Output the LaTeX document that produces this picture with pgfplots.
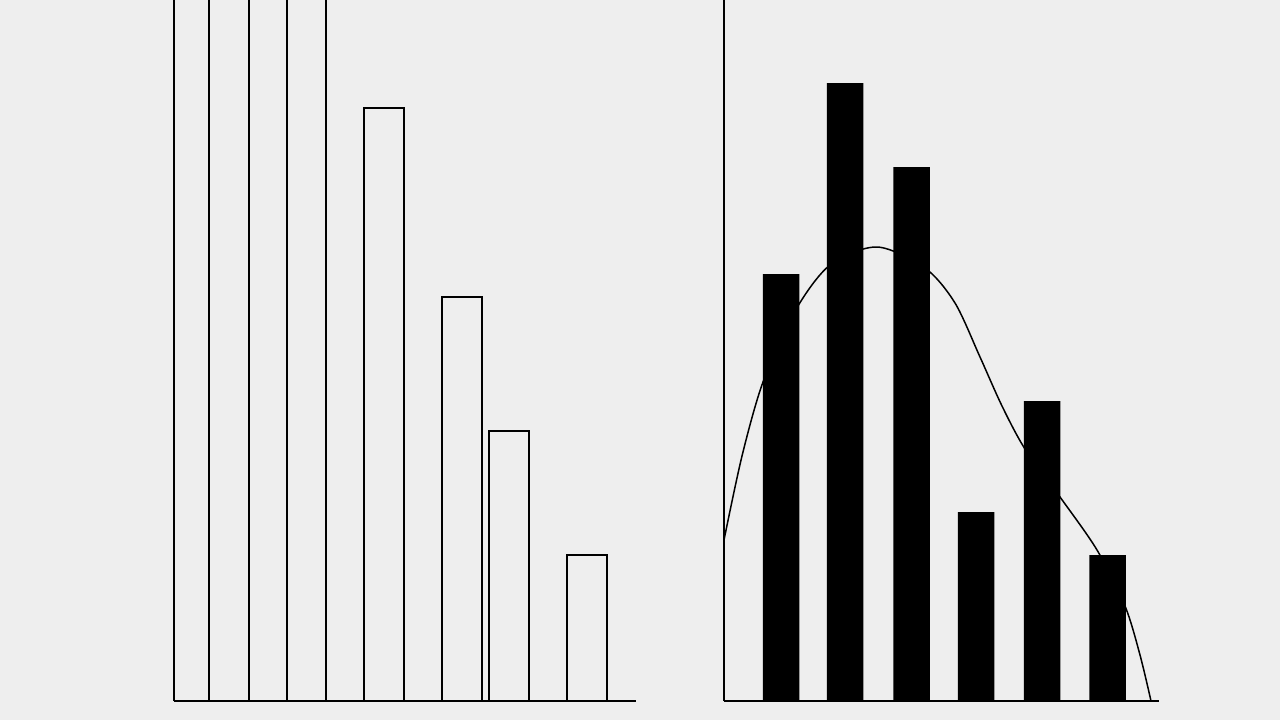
\documentclass[border=0pt]{standalone}
\usepackage{pgfplots}
\pgfplotsset{compat=1.18}
\definecolor{bg}{RGB}{238,238,238}
\begin{document}
\begin{tikzpicture}
\path[use as bounding box] (0,0) rectangle (640pt,360pt);
\fill[bg] (0,0) rectangle (640pt,360pt);
% left panel
\begin{axis}[
  at={(87pt,9.5pt)}, anchor=south west,
  scale only axis, width=231pt, height=350.5pt,
  xmin=174, xmax=636, ymin=0, ymax=701,
  axis lines=left, axis line style={-, line width=1.25pt, black},
  xtick=\empty, ytick=\empty, clip=true,
]
\addplot[ybar interval, draw=black, fill=none, line width=1.25pt] coordinates {
(174,800) (209,800) (249,800) (287,800) (326,0) (364,593) (404,0)
(442,404) (482,0) (489,270) (529,0) (567,146) (607,0)
};
\end{axis}
% right panel
\begin{axis}[
  at={(362pt,9.5pt)}, anchor=south west,
  scale only axis, width=217.5pt, height=350.5pt,
  xmin=724, xmax=1159, ymin=0, ymax=701,
  axis lines=left, axis line style={-, line width=1.25pt, black},
  xtick=\empty, ytick=\empty, clip=true,
]
\addplot[ybar, bar shift=0pt, bar width=36.5, fill=black, draw=none] coordinates {
(781,427) (845,618) (911.5,534) (976,189) (1042,300) (1107.5,146)
};
\addplot[smooth, tension=0.5, line width=0.75pt, black] coordinates {
(724,161) (742,245) (763,319) (795,390) (830,436) (877,454)
(925,433) (955,398) (980,344) (1002,295) (1025,252)
(1060,204) (1097,151) (1125,95) (1140,46) (1151,0)
};
\end{axis}
\end{tikzpicture}
\end{document}
